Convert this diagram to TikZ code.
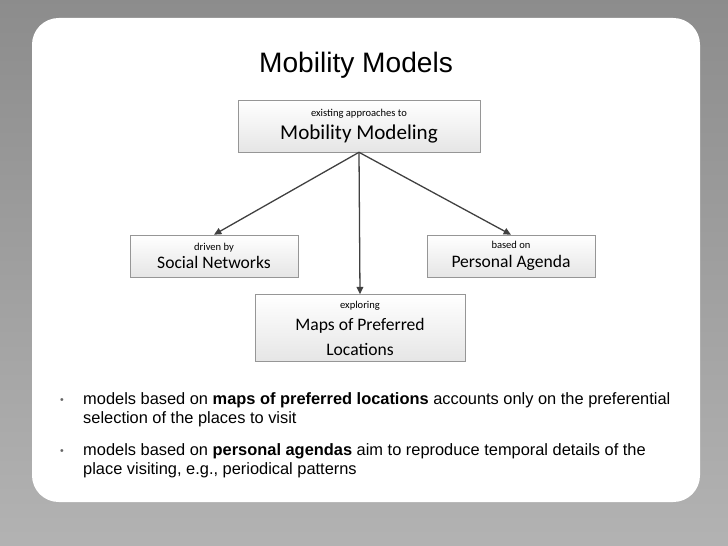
\documentclass[tikz,border=0pt]{standalone}
\usepackage{fontspec}
\setmainfont{Liberation Sans}
\newfontfamily\boxfont{Carlito}
\usetikzlibrary{positioning,arrows.meta}
\definecolor{boxedge}{RGB}{150,150,150}
\definecolor{arrowgray}{RGB}{64,64,64}
\newcommand{\smalltag}[1]{{\fontsize{9}{11}\selectfont #1}}
\tikzset{
  approach/.style={draw=boxedge, line width=0.5pt, top color=white, bottom color=black!10,
    align=center, inner sep=2pt},
  link/.style={-{Triangle[length=2.2mm,width=2mm]}, draw=arrowgray, line width=1.1pt},
  bullettext/.style={anchor=north west, align=left, font=\fontsize{14}{16.4}\selectfont, inner sep=0pt}
}
\begin{document}
\begin{tikzpicture}[x=0.3mm, y=-0.3mm]
\useasboundingbox (0,0) rectangle (728,546);
% slide background
\shade[top color=black!45, bottom color=black!30] (0,0) rectangle (728,546);
\fill[white, rounded corners=8mm] (32,18) rectangle (700,502);
% title
\node[font=\fontsize{24}{28}\selectfont] (title) at (356,65) {Mobility Models};
% diagram
\node[approach, minimum width=72.6mm, minimum height=15.6mm, font=\boxfont\fontsize{18}{22}\selectfont] (modeling) at (359,126)
  {\smalltag{existing approaches to}\\[-2pt]Mobility Modeling};
\node[approach, minimum width=50.4mm, minimum height=12.6mm, font=\boxfont\fontsize{15}{18}\selectfont] (social) at (214,256)
  {\smalltag{driven by}\\[-2pt]Social Networks};
\node[approach, minimum width=50.4mm, minimum height=12.6mm, font=\boxfont\fontsize{15}{18}\selectfont] (agenda) at (511,256)
  {\smalltag{based on}\\[-2pt]Personal Agenda};
\node[approach, minimum width=63mm, minimum height=20.1mm, font=\boxfont\fontsize{15}{18}\selectfont] (maps) at (360,328)
  {\smalltag{exploring}\\[1pt]Maps of Preferred\\[3pt]Locations};
\coordinate (hub) at (modeling.south);
\draw[link] (hub) -- (social.north);
\draw[link] (hub) -- (agenda.north);
\draw[link] (hub) -- (maps.north);
% bullets
\node[bullettext] (b1) at (83,392) {models based on \textbf{maps of preferred locations} accounts only on the preferential\\selection of the places to visit};
\node[anchor=east, font=\small, text=black!60] (d1) at (b1.north west) [yshift=-2.6mm, xshift=-4.5mm] {•};
\node[bullettext] (b2) at (83,443) {models based on \textbf{personal agendas} aim to reproduce temporal details of the\\place visiting, e.g., periodical patterns};
\node[anchor=east, font=\small, text=black!60] (d2) at (b2.north west) [yshift=-2.6mm, xshift=-4.5mm] {•};
\end{tikzpicture}
\end{document}
